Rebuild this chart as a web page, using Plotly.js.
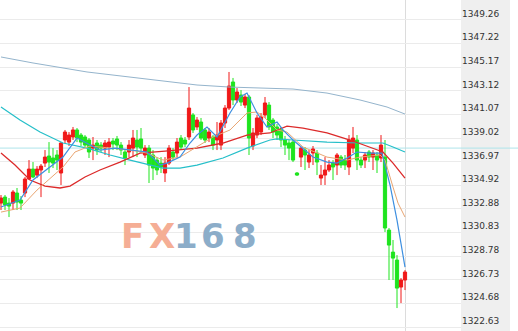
<!DOCTYPE html>
<html>
<head>
<meta charset="utf-8">
<script src="https://cdn.plot.ly/plotly-3.0.1.min.js"></script>
<style>
html,body{margin:0;padding:0;background:#fff;}
#wrap{position:relative;width:518px;height:331px;}
#panel{position:absolute;left:461px;top:0;width:49px;height:331px;background:#efefef;}
#chart{position:absolute;left:0;top:0;width:518px;height:331px;}
</style>
</head>
<body>
<div id="wrap"><div id="panel"></div><div id="chart"></div></div>
<script>
// Candlestick data
const openP = [1333.38,1333.90,1333.38,1333.38,1334.25,1333.64,1334.25,1335.47,1336.33,1335.81,
1336.25,1336.85,1337.46,1337.29,1337.55,1335.99,1338.85,1338.67,1339.11,1339.72,
1339.28,1339.11,1338.85,1338.15,1338.59,1338.41,1338.15,1338.24,1338.76,1338.94,
1338.41,1337.81,1337.81,1338.15,1338.85,1338.94,1337.55,1338.15,1337.55,1337.11,
1336.85,1335.99,1336.85,1337.81,1337.72,1339.02,1338.85,1339.11,1341.02,1339.98,
1340.41,1339.72,1339.02,1339.11,1338.85,1338.41,1340.32,1341.62,1343.88,1342.32,
1342.75,1341.88,1342.58,1338.33,1339.28,1339.54,1341.02,1341.88,1340.58,1339.98,
1339.72,1338.85,1338.59,1338.67,1335.99,1337.37,1337.98,1336.94,1337.72,1337.72,
1335.55,1335.81,1336.25,1336.85,1336.68,1337.37,1337.11,1336.51,1338.15,1338.85,
1337.11,1337.11,1337.81,1337.37,1337.55,1337.29,1337.37,1331.04,1329.13,1328.44,
1326.10,1326.71];
const highP = [1334.08,1334.08,1333.82,1334.51,1334.69,1333.99,1335.64,1337.11,1336.94,1336.59,
1336.77,1337.98,1338.67,1338.15,1337.98,1338.67,1339.72,1339.54,1339.98,1339.89,
1339.46,1339.28,1339.02,1339.11,1338.85,1338.67,1338.85,1339.02,1339.02,1339.20,
1338.67,1337.98,1338.85,1339.72,1339.72,1339.89,1338.41,1338.41,1337.98,1337.37,
1337.37,1337.37,1338.41,1338.15,1339.02,1339.28,1339.11,1343.44,1341.19,1340.84,
1340.76,1339.89,1339.89,1339.28,1340.41,1340.58,1341.88,1344.75,1344.23,1343.36,
1343.18,1342.84,1342.75,1339.89,1341.02,1341.19,1342.58,1342.14,1340.76,1340.24,
1339.98,1339.20,1338.85,1338.85,1336.07,1338.24,1338.24,1337.98,1338.33,1337.98,
1336.68,1337.37,1337.11,1337.11,1337.72,1337.55,1337.55,1339.28,1339.98,1339.28,
1337.37,1337.81,1337.98,1337.98,1337.81,1339.28,1338.85,1331.22,1330.18,1328.87,
1326.88,1327.57];
const lowP = [1332.78,1332.78,1332.17,1332.78,1332.78,1332.78,1333.90,1335.38,1335.55,1335.55,
1333.90,1336.51,1335.99,1336.42,1336.25,1334.95,1338.59,1338.33,1338.85,1338.67,
1338.33,1338.15,1337.29,1337.11,1337.55,1337.81,1337.55,1337.37,1337.98,1337.98,
1337.55,1336.68,1337.37,1337.37,1337.37,1337.72,1337.29,1335.12,1335.38,1335.81,
1335.99,1335.21,1336.68,1337.11,1337.37,1337.98,1338.24,1338.85,1339.46,1339.72,
1338.85,1338.59,1338.67,1337.98,1337.98,1337.98,1339.89,1341.45,1341.88,1342.06,
1341.80,1341.62,1337.55,1337.98,1339.02,1339.28,1340.76,1339.72,1339.02,1338.85,
1338.24,1337.55,1337.11,1336.94,1335.73,1336.51,1336.25,1336.42,1336.68,1335.81,
1334.95,1334.95,1336.07,1335.38,1335.81,1336.42,1336.25,1335.81,1337.72,1336.25,
1336.42,1336.42,1336.94,1336.25,1335.99,1336.94,1330.87,1326.71,1326.71,1324.28,
1324.71,1325.84];
const closeP = [1333.82,1333.21,1333.12,1334.34,1333.47,1333.38,1335.47,1336.33,1335.64,1336.33,
1336.59,1337.37,1336.94,1336.85,1337.11,1338.59,1339.54,1339.28,1339.72,1339.02,
1338.67,1338.41,1337.81,1338.41,1337.98,1338.15,1338.59,1338.67,1338.50,1338.41,
1337.98,1337.29,1338.41,1339.02,1338.24,1338.15,1338.15,1336.68,1336.42,1336.25,
1336.51,1336.85,1338.15,1337.37,1338.67,1338.24,1338.50,1341.62,1339.72,1340.58,
1339.02,1338.85,1339.54,1338.41,1339.28,1340.32,1341.62,1343.53,1342.32,1343.01,
1342.14,1342.58,1339.02,1339.46,1340.76,1340.84,1342.06,1339.98,1339.54,1339.28,
1338.85,1338.41,1338.15,1337.11,1335.81,1338.15,1337.55,1337.55,1338.07,1336.94,
1335.81,1336.25,1336.68,1336.51,1337.55,1336.68,1336.68,1338.85,1339.02,1337.11,
1336.68,1337.55,1337.37,1337.72,1337.11,1338.41,1331.22,1329.74,1328.61,1326.01,
1326.71,1327.40];

// Moving average lines: bar index and value
const maBlueX = [0,4.75,8,12.25,15.5,19,21.5,24.75,28.5,32.25,36.5,39.75,41.5,44.75,47.25,49,51.5,54,57.25,59.75,61.5,64,66.5,69,70.5,73,75.5,78,81.5,84,86.5,89,92.25,95.25,97.25,99,101];
const maBlueY = [1333.04,1333.64,1335.38,1336.51,1337.37,1339.02,1338.59,1337.98,1338.15,1337.98,1337.81,1336.68,1336.85,1337.37,1338.59,1339.28,1339.98,1339.11,1341.19,1342.58,1342.92,1341.19,1339.98,1340.41,1339.72,1338.85,1338.15,1337.37,1336.94,1336.85,1337.29,1337.81,1337.72,1337.72,1334.95,1331.91,1327.83];
const maOrangeX = [0,4.75,9,12.25,15.5,18.5,22.25,27.25,32.25,36.5,40.5,44.75,49,53,57.25,61.5,64,66,69,71.5,75.5,81.5,86.5,89.75,94.75,96,98,99.25,101];
const maOrangeY = [1332.60,1332.95,1334.51,1335.55,1336.51,1337.81,1338.33,1338.15,1337.98,1337.72,1337.11,1337.37,1338.24,1339.11,1339.72,1341.19,1341.28,1340.76,1339.72,1339.54,1338.24,1337.37,1337.11,1337.37,1337.55,1337.11,1334.77,1333.38,1332.17];
const maRedX = [0,3.5,7.25,11,14.75,17.25,21,24.75,29.75,34.75,41,49,55.5,61.5,67.25,71.5,75.5,81.5,87.25,92.25,95.5,98,101];
const maRedY = [1337.72,1336.68,1335.38,1334.86,1334.69,1334.86,1335.64,1336.25,1336.94,1337.72,1337.89,1338.15,1338.59,1339.28,1339.46,1340.06,1339.89,1339.46,1338.85,1338.24,1337.81,1336.85,1335.55];
const maCyanX = [0,4.75,9.75,15.5,21.5,27.25,32.25,40.5,44.75,49,55.5,61.5,67.25,69,73,81.5,89.75,95.5,98,101];
const maCyanY = [1341.71,1340.58,1339.54,1338.59,1338.15,1337.55,1337.11,1336.42,1336.42,1336.68,1337.29,1338.15,1338.85,1338.94,1338.85,1338.67,1338.59,1338.59,1338.24,1337.81];
const maGrayX = [0,8,21.5,34.75,49,57.25,67.25,73,81.5,89.75,96.5,101];
const maGrayY = [1346.05,1345.53,1344.75,1344.23,1343.62,1343.44,1343.36,1343.27,1342.92,1342.32,1341.71,1341.10];

const priceLine = 1338.15;
const tickVals = [1349.26,1347.22,1345.17,1343.12,1341.07,1339.02,1336.97,1334.92,1332.88,1330.83,1328.78,1326.73,1324.68,1322.63];
const tickText = ['1349.26','1347.22','1345.17','1343.12','1341.07','1339.02','1336.97','1334.92','1332.88','1330.83','1328.78','1326.73','1324.68','1322.63'];
const watermark = [['F','#f5ae95'],['X','#f5ae95'],['1','#8cadc9'],['6','#8cadc9'],['8','#8cadc9']];

const barIdx = openP.map((_, i) => i);

const W = 518, H = 331, plotW = 461;
const RED = '#f01818', GREEN = '#1ee41e';

function ma(x, y, color, w) {
  return {type:'scatter', mode:'lines', x:x, y:y, line:{color:color, width:w}, hoverinfo:'skip'};
}

const traces = [
  ma(maGrayX, maGrayY, '#94b4cc', 1),
  ma(maCyanX, maCyanY, '#25bfc9', 1.2),
  ma(maRedX, maRedY, '#dc2a2a', 1.3),
  {
    type:'candlestick', x:barIdx, open:openP, high:highP, low:lowP, close:closeP,
    increasing:{line:{color:RED, width:1}, fillcolor:RED},
    decreasing:{line:{color:GREEN, width:1}, fillcolor:GREEN},
    whiskerwidth:0, hoverinfo:'skip'
  },
  ma(maOrangeX, maOrangeY, '#e9a572', 1),
  ma(maBlueX, maBlueY, '#3d8fe0', 1.2)
];

const letterX = [132.5, 161.5, 186, 213, 245];
const annotations = watermark.map((d, k) => ({
  xref:'paper', yref:'paper', x:letterX[k]/plotW, y:1 - 236/H,
  xanchor:'center', yanchor:'middle', showarrow:false,
  text:d[0], font:{family:'DejaVu Sans', size:34, color:d[1], weight:'bold'}
}));

const layout = {
  width:W, height:H,
  margin:{l:0, r:W-plotW, t:0, b:0, pad:0},
  paper_bgcolor:'rgba(0,0,0,0)', plot_bgcolor:'rgba(0,0,0,0)',
  showlegend:false,
  boxgap:0.2, boxgroupgap:0,
  xaxis:{range:[-0.25, 115], showgrid:false, zeroline:false, showticklabels:false,
         ticks:'', showline:false, rangeslider:{visible:false}, fixedrange:true},
  yaxis:{range:[1322.29, 1350.99], side:'right', tickvals:tickVals, ticktext:tickText,
         ticklabelposition:'outside top', ticks:'', ticklen:0,
         showgrid:true, gridcolor:'#ebebeb', gridwidth:1, zeroline:false, showline:false,
         tickfont:{family:'DejaVu Sans', size:9, color:'#333333'}, fixedrange:true},
  shapes:[
    {type:'line', xref:'paper', yref:'paper', x0:405.5/plotW, x1:405.5/plotW, y0:0, y1:1,
     line:{color:'#dcdcdc', width:1}, layer:'below'},
    {type:'line', xref:'paper', yref:'y', x0:0, x1:W/plotW, y0:priceLine, y1:priceLine,
     line:{color:'#aee4ea', width:1}, layer:'below'}
  ],
  annotations:annotations
};

Plotly.newPlot('chart', traces, layout, {staticPlot:true, displayModeBar:false});
</script>
</body>
</html>
